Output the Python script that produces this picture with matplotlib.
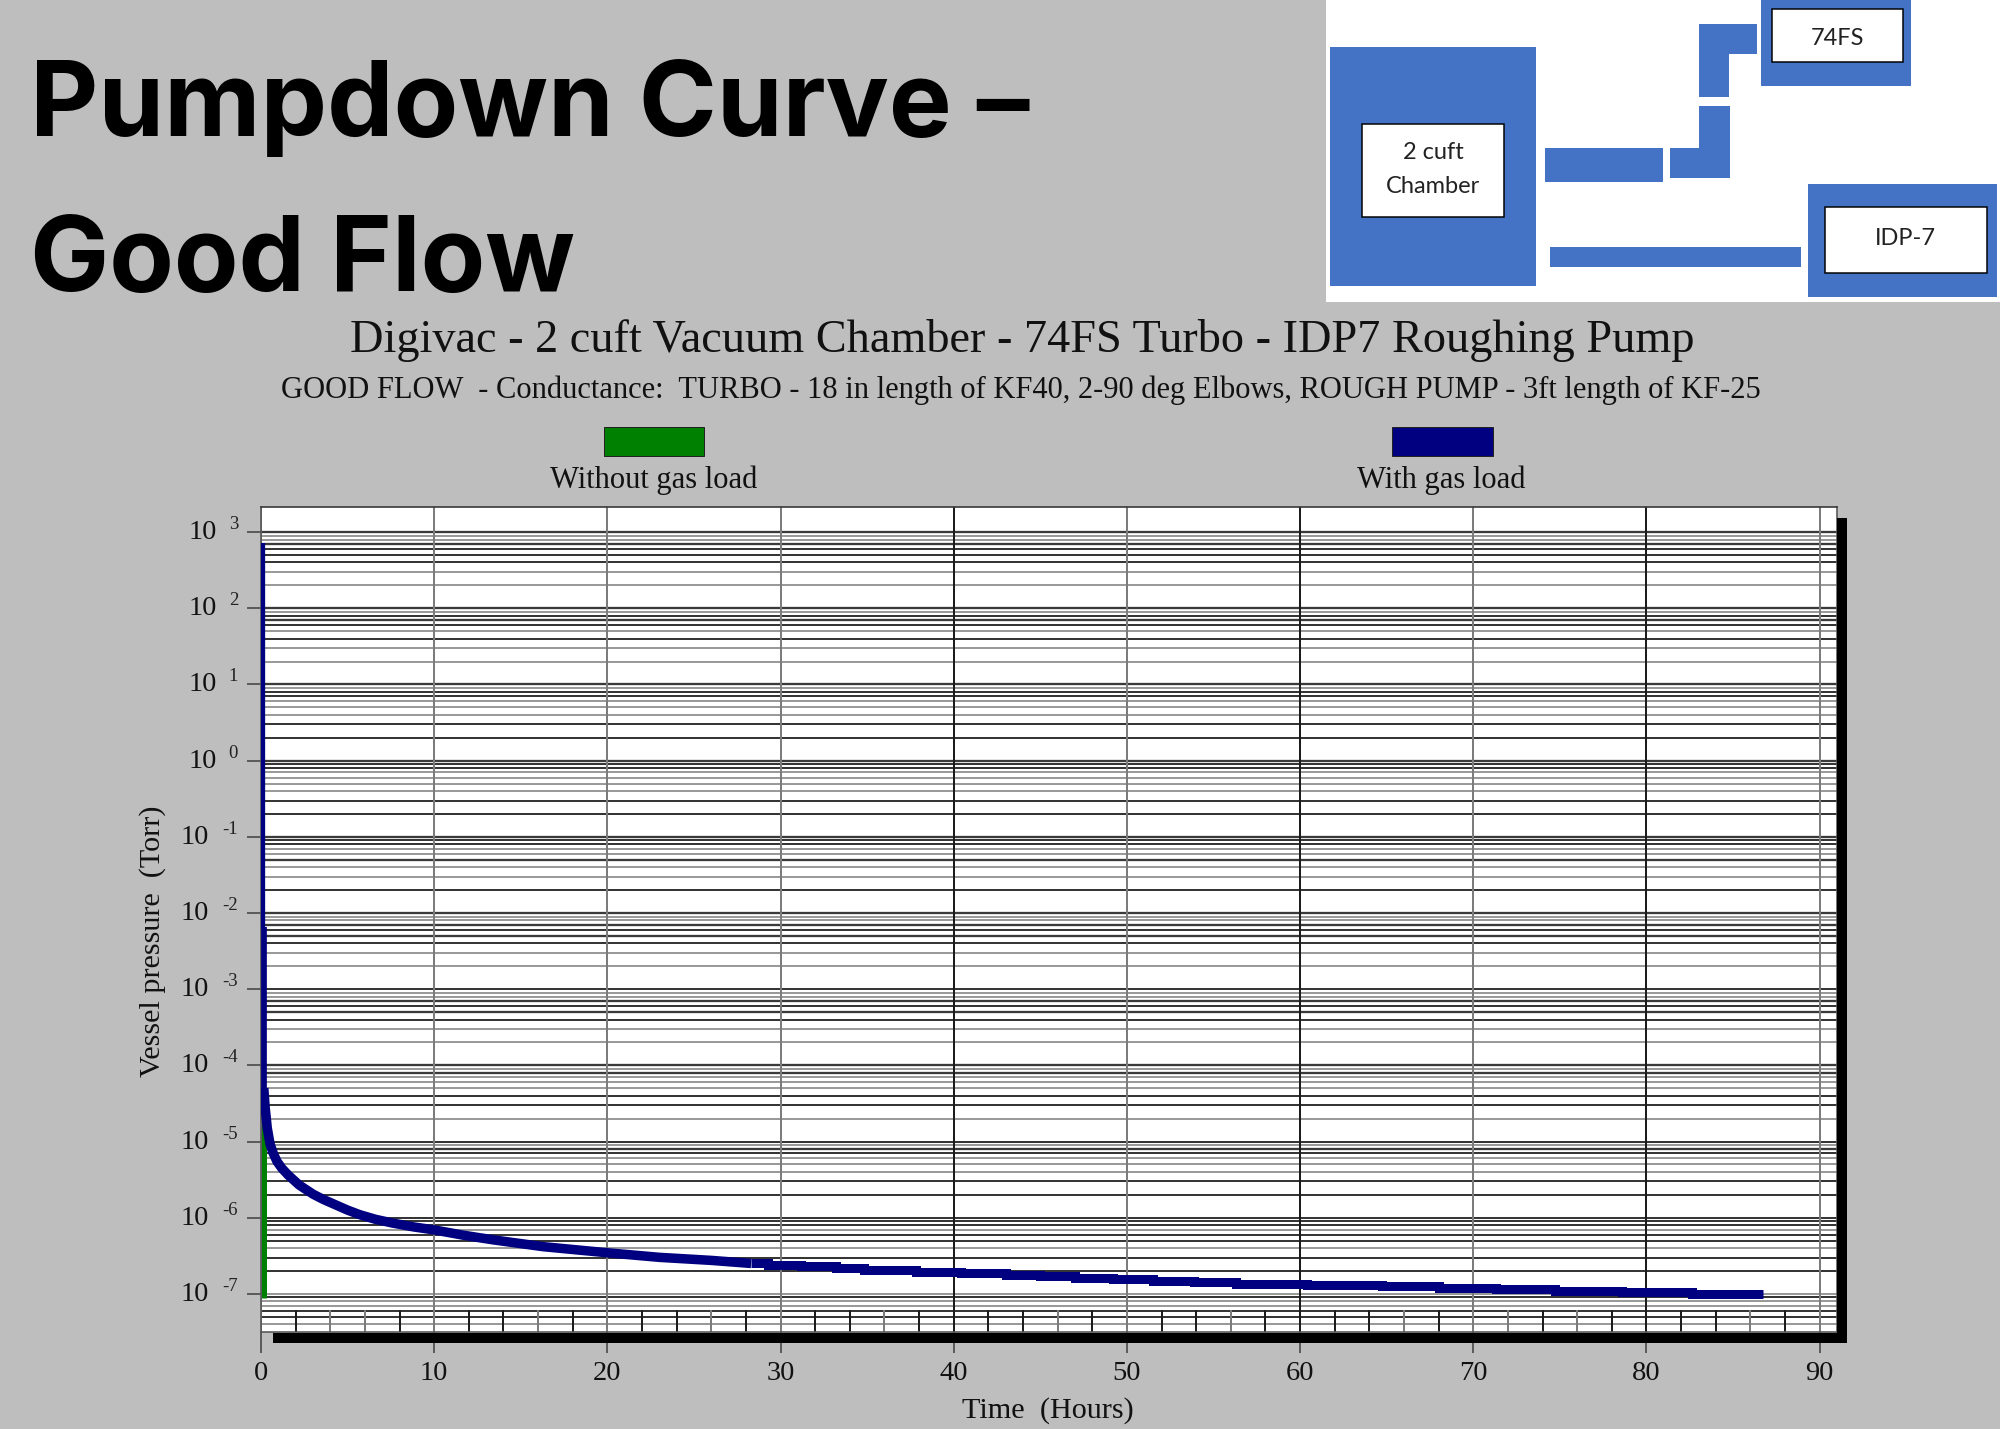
import numpy as np
import matplotlib
matplotlib.use("Agg")
import matplotlib.pyplot as plt
from matplotlib.patches import Rectangle

# pumpdown data, hours and log10(Torr)
upper_hours = [0.12, 0.12]
upper_log = [2.86, -2.19]
middle_hours = [0.15, 0.15]
middle_log = [-2.19, -4.5]
smooth_hours = [0.16, 0.24, 0.36, 0.52, 0.7, 0.92, 1.2, 1.57, 2.2, 3.0, 3.6, 4.4, 5.0, 5.7, 6.6, 7.6, 8.8, 10,
                11.7, 13.4, 16.3, 20, 23, 26, 28.3]
smooth_log = [-4.3, -4.55, -4.82, -5.03, -5.15, -5.26, -5.35, -5.44, -5.57, -5.69, -5.76, -5.84, -5.9, -5.96,
              -6.02, -6.07, -6.12, -6.16, -6.23, -6.29, -6.38, -6.46, -6.52, -6.56, -6.60]
step_hours = [28.3, 29.3, 31.2, 33.2, 34.8, 36.3, 37.8, 40.4, 43, 45, 47, 49.2, 51.5, 53.9, 56.3,
              60.4, 64.7, 68, 71.3, 74.7, 78.6, 82.6, 86.7]
step_log = [-6.60, -6.62, -6.64, -6.66, -6.68, -6.69, -6.71, -6.73, -6.75, -6.76, -6.79, -6.81, -6.83, -6.85, -6.87,
            -6.88, -6.90, -6.92, -6.94, -6.96, -6.98, -7.00, -7.00]
base_hours = [0.2, 0.2]
base_log = [-7.05, -4.76]

legend_labels = ["Without gas load", "With gas load"]
x_major = [0, 10, 20, 30, 40, 50, 60, 70, 80, 90]
x_major_shade = "GGGGDGDGDG"
x_minor = [2, 4, 6, 8, 12, 14, 16, 18, 22, 24, 26, 28, 32, 34, 36, 38, 42, 44, 46, 48,
           52, 54, 56, 58, 62, 64, 66, 68, 72, 74, 76, 78, 82, 84, 86, 88]
x_minor_shade = "DGGDDDGDDDGDDDGDDDGDDDGDDDGDGDGDDDGD"
decades = [3, 2, 1, 0, -1, -2, -3, -4, -5, -6, -7]
multipliers = [1, 0.9, 0.8, 0.7, 0.6, 0.5, 0.4, 0.3, 0.2]
# line weight of each horizontal rule, top decade first
decade_shade = ["MGGMDDDGG", "MGDMDGDGG", "MGDDGGGDD", "MDDGGGGDD", "MDDGGMGGD",
                "MGGMDMDGG", "DGGMDMDGG", "MGMGGGDDG", "DGMDGGGDD", "DDDGDDGDD", "GDGGDDGGG"]

BLUE = "#000080"
GREEN = "#008000"
PAGE = "#bebebe"
DIAGRAM = "#4472c4"
H_SHADES = {"D": ("#141414", 1.7), "M": ("#3a3a3a", 2.3), "G": ("#9a9a9a", 2.0)}
V_SHADES = {"D": ("#1c1c1c", 2.0), "G": ("#7c7c7c", 2.0)}


def px(width):
    # line widths below are thought of in pixels
    return width * 0.72


fig = plt.figure(figsize=(20, 14.29), dpi=100, facecolor=PAGE)
plt.rcParams["font.family"] = "Liberation Serif"

ax = fig.add_axes([261 / 2000, 1 - 1332 / 1429, 1576 / 2000, 825 / 1429], zorder=1)
ax.set_yscale("log")
ax.set_xlim(0, 91)
ax.set_ylim(10 ** -7.5, 10 ** 3.33)
ax.set_facecolor("white")

for dec, shades in zip(decades, decade_shade):
    for m, s in zip(multipliers, shades):
        c, w = H_SHADES[s]
        ax.axhline(m * 10.0 ** dec, color=c, lw=px(w), zorder=1)

for h, s in zip(x_major, x_major_shade):
    c, w = V_SHADES[s]
    ax.axvline(h, color=c, lw=px(w), zorder=1.5)
for h, s in zip(x_minor, x_minor_shade):
    c, w = V_SHADES[s]
    ax.plot([h, h], [0, 21 / 825], color=c, lw=px(w), transform=ax.get_xaxis_transform(), zorder=1.5)

ax.plot(base_hours, 10.0 ** np.array(base_log), color=GREEN, lw=px(5), solid_capstyle="butt", zorder=2)
ax.plot(upper_hours, 10.0 ** np.array(upper_log), color=BLUE, lw=px(4.3), solid_capstyle="butt", zorder=3)
ax.plot(middle_hours, 10.0 ** np.array(middle_log), color=BLUE, lw=px(5.7), solid_capstyle="butt", zorder=3)
ax.plot(smooth_hours, 10.0 ** np.array(smooth_log), color=BLUE, lw=px(9.5), solid_capstyle="butt",
        solid_joinstyle="round", zorder=3)
ax.plot(step_hours, 10.0 ** np.array(step_log), color=BLUE, lw=px(9), drawstyle="steps-post",
        solid_capstyle="butt", solid_joinstyle="miter", zorder=3)

ax.minorticks_off()
ax.set_xticks(x_major)
ax.set_xticklabels([str(h) for h in x_major], fontsize=20.5, color="#111111")
ax.tick_params(axis="x", length=px(21), width=px(1.6), color="#444444", pad=5.5)
ax.set_yticks([10.0 ** d for d in decades])
ax.set_yticklabels([])
ax.tick_params(axis="y", length=px(14), width=px(1.6), color="#444444")
for s in ax.spines.values():
    s.set_color("#555555")
    s.set_linewidth(px(1.6))
ax.spines["top"].set_color("#333333")

# y labels: a ten and a raised exponent, negative powers sit further left
ytrans = ax.get_yaxis_transform()
for d in decades:
    ten_x = -44 if d >= 0 else -52
    ax.annotate("10", (0, 10.0 ** d), xycoords=ytrans, xytext=(px(ten_x), px(-7)), textcoords="offset points",
                ha="right", va="baseline", fontsize=20.5, color="#111111", annotation_clip=False)
    ax.annotate(str(d), (0, 10.0 ** d), xycoords=ytrans, xytext=(px(-23), px(3)), textcoords="offset points",
                ha="right", va="baseline", fontsize=13.5, color="#222222", annotation_clip=False)

# everything outside the plot, laid out in page pixels
page = fig.add_axes([0, 0, 1, 1], zorder=2)
page.set_xlim(0, 2000)
page.set_ylim(1429, 0)
page.axis("off")


def box(x0, y0, x1, y1, color=DIAGRAM, edge=None, lw=0):
    page.add_patch(Rectangle((x0, y0), x1 - x0, y1 - y0, facecolor=color, edgecolor=edge, linewidth=px(lw)))


box(273, 1333, 1847, 1343, "black")
box(1837, 518, 1847, 1343, "black")

page.text(30, 136, "Pumpdown Curve \u2013", family="Inter", weight="bold", fontsize=76, color="black")
page.text(30, 291, "Good Flow", family="Inter", weight="bold", fontsize=76, color="black")

page.text(1022, 352, "Digivac - 2 cuft Vacuum Chamber - 74FS Turbo - IDP7 Roughing Pump",
          ha="center", fontsize=33.3, color="#111111")
page.text(1021, 398, "GOOD FLOW  - Conductance:  TURBO - 18 in length of KF40, 2-90 deg Elbows, ROUGH PUMP - 3ft length of KF-25",
          ha="center", fontsize=22, color="#111111")

box(604, 427, 704, 456, GREEN, "#222222", 1)
box(1392, 427, 1493, 456, BLUE, "#222222", 1)
page.text(654, 488, legend_labels[0], ha="center", fontsize=22, color="#111111")
page.text(1441, 488, legend_labels[1], ha="center", fontsize=22, color="#111111")

page.text(153, 941, "Vessel pressure  (Torr)", rotation=90, ha="center", va="center", fontsize=21.7, color="#111111")
page.text(1048, 1418, "Time  (Hours)", ha="center", fontsize=21.8, color="#111111")

# pump layout sketch
box(1326, 0, 2000, 302, "white")
box(1330, 47, 1536, 286)
box(1362, 124, 1504, 217, "white", "black", 1.5)
box(1545, 148, 1663, 182)
box(1670, 148, 1730, 178)
box(1699, 106, 1730, 178)
box(1699, 24, 1729, 97)
box(1699, 24, 1757, 54)
box(1761, 0, 1911, 86)
box(1772, 9, 1903, 62, "white", "black", 1.5)
box(1550, 247, 1801, 267)
box(1808, 184, 1997, 297)
box(1825, 207, 1987, 273, "white", "black", 1.5)
for x, y, t in [(1433, 152, "2 cuft"), (1433, 186, "Chamber"), (1837, 38, "74FS"), (1905, 238, "IDP-7")]:
    page.text(x, y, t, family="Lato", fontsize=17, ha="center", va="center", color="#222222")

fig.savefig("out.png", dpi=100, facecolor=PAGE)
